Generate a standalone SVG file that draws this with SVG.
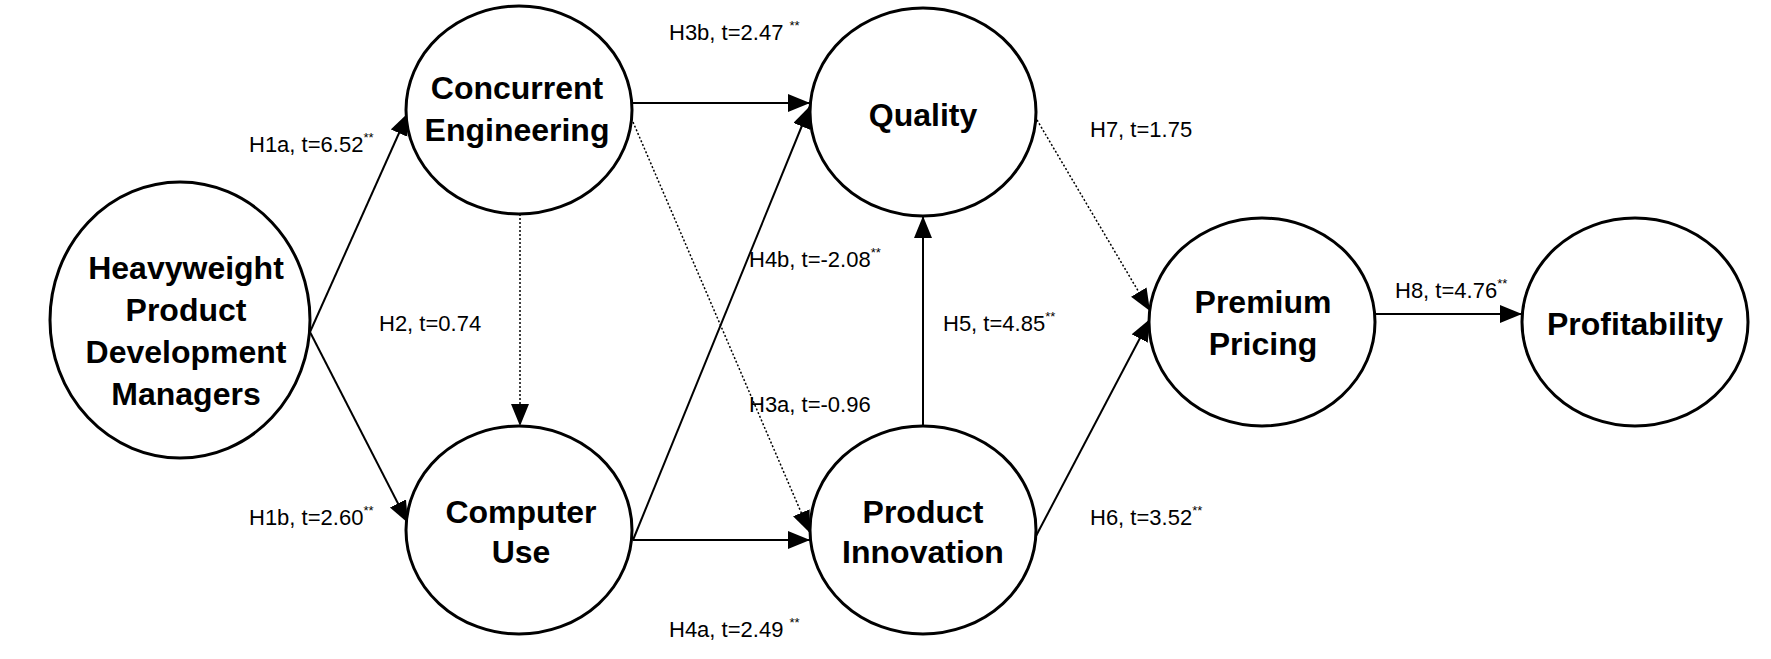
<svg xmlns="http://www.w3.org/2000/svg" width="1771" height="659" viewBox="0 0 1771 659">
<style>
.n{fill:#fff;stroke:#000;stroke-width:3}
.t{font-family:"Liberation Sans",Arial,sans-serif;font-weight:bold;font-size:32px;text-anchor:middle}
.l{font-family:"Liberation Sans",Arial,sans-serif;font-size:22px}
.s{font-size:13px}
.c{fill:none;stroke:#000;stroke-width:2;marker-end:url(#a)}
.d{stroke-dasharray:2 2;stroke-width:1.5}
</style>
<defs><marker id="a" markerUnits="userSpaceOnUse" markerWidth="26" markerHeight="20" refX="22" refY="9" orient="auto"><path d="M0,0L22,9L0,18z" fill="#000"/></marker></defs>
<rect width="1771" height="659" fill="#fff"/>
<g id="connectors">
<line class="c" x1="310" y1="332" x2="408" y2="113"/>
<line class="c" x1="310" y1="332" x2="408" y2="523"/>
<line class="c d" x1="520" y1="214" x2="520" y2="426"/>
<line class="c" x1="633" y1="103" x2="810" y2="103"/>
<line class="c d" x1="633" y1="122" x2="810" y2="533"/>
<line class="c" x1="633" y1="540" x2="810" y2="106"/>
<line class="c" x1="633" y1="540" x2="810" y2="540"/>
<line class="c" x1="923" y1="426" x2="923" y2="216"/>
<line class="c d" x1="1037" y1="120" x2="1150" y2="311"/>
<line class="c" x1="1036" y1="536" x2="1150" y2="319"/>
<line class="c" x1="1376" y1="314" x2="1522" y2="314"/>
</g>
<g id="heavyweight"><ellipse class="n" cx="180" cy="320" rx="130" ry="138"/>
<text class="t" x="186" y="279">Heavyweight</text><text class="t" x="186" y="321">Product</text><text class="t" x="186" y="363">Development</text><text class="t" x="186" y="405">Managers</text></g>
<g id="concurrent"><ellipse class="n" cx="519" cy="110" rx="113" ry="104"/>
<text class="t" x="517" y="99">Concurrent</text><text class="t" x="517" y="141">Engineering</text></g>
<g id="computer"><ellipse class="n" cx="519" cy="530" rx="113" ry="104"/>
<text class="t" x="521" y="523">Computer</text><text class="t" x="521" y="563">Use</text></g>
<g id="quality"><ellipse class="n" cx="923" cy="112" rx="113" ry="104"/>
<text class="t" x="923" y="126">Quality</text></g>
<g id="innovation"><ellipse class="n" cx="923" cy="530" rx="113" ry="104"/>
<text class="t" x="923" y="523">Product</text><text class="t" x="923" y="563">Innovation</text></g>
<g id="premium"><ellipse class="n" cx="1262" cy="322" rx="113" ry="104"/>
<text class="t" x="1263" y="313">Premium</text><text class="t" x="1263" y="355">Pricing</text></g>
<g id="profitability"><ellipse class="n" cx="1635" cy="322" rx="113" ry="104"/>
<text class="t" x="1635" y="335">Profitability</text></g>
<g id="labels">
<text class="l" x="249" y="152">H1a, t=6.52<tspan class="s" dy="-10">**</tspan></text>
<text class="l" x="249" y="525">H1b, t=2.60<tspan class="s" dy="-10">**</tspan></text>
<text class="l" x="379" y="331">H2, t=0.74</text>
<text class="l" x="669" y="40">H3b, t=2.47 <tspan class="s" dy="-10">**</tspan></text>
<text class="l" x="749" y="267">H4b, t=-2.08<tspan class="s" dy="-10">**</tspan></text>
<text class="l" x="943" y="331">H5, t=4.85<tspan class="s" dy="-10">**</tspan></text>
<text class="l" x="749" y="412">H3a, t=-0.96</text>
<text class="l" x="669" y="637">H4a, t=2.49 <tspan class="s" dy="-10">**</tspan></text>
<text class="l" x="1090" y="137">H7, t=1.75</text>
<text class="l" x="1090" y="525">H6, t=3.52<tspan class="s" dy="-10">**</tspan></text>
<text class="l" x="1395" y="298">H8, t=4.76<tspan class="s" dy="-10">**</tspan></text>
</g>
</svg>
